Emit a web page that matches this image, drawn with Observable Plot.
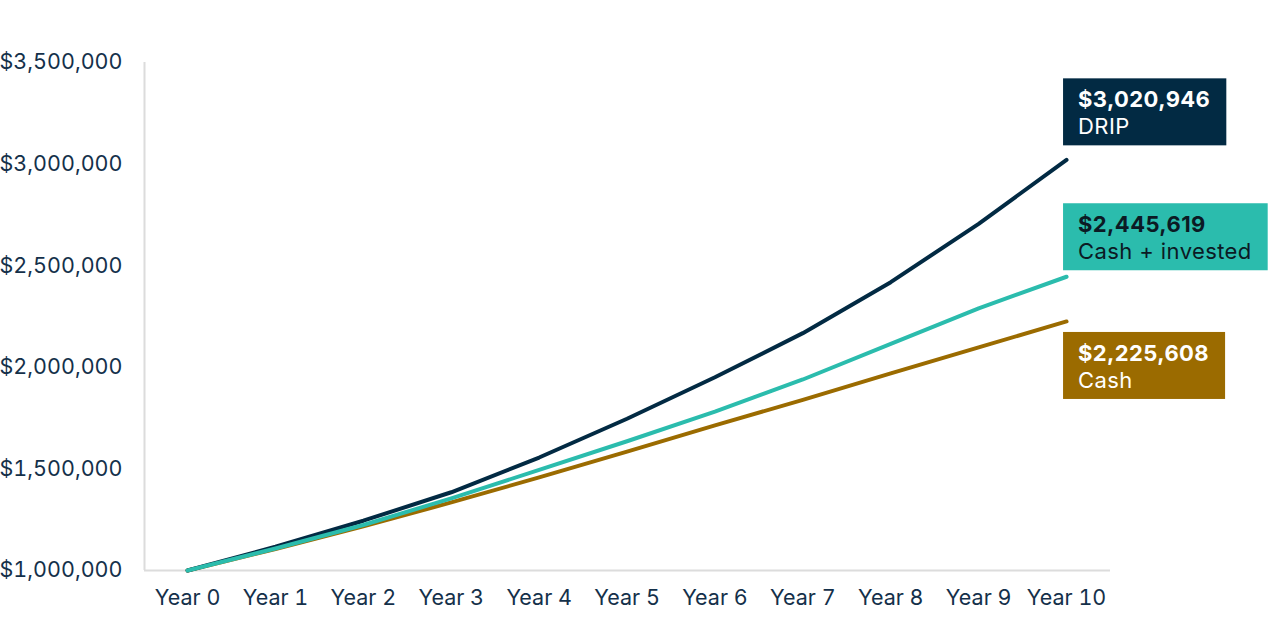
<!DOCTYPE html>
<html>
<head>
<meta charset="utf-8">
<script src="https://cdn.jsdelivr.net/npm/d3@7"></script>
<script src="https://cdn.jsdelivr.net/npm/@observablehq/plot@0.6"></script>
<style>
  html, body { margin: 0; padding: 0; background: #fff; }
  #chart { width: 1280px; height: 644px; }
</style>
</head>
<body>
<div id="chart"></div>
<script>
// ---- Data ----
const years = ["Year 0", "Year 1", "Year 2", "Year 3", "Year 4", "Year 5", "Year 6", "Year 7", "Year 8", "Year 9", "Year 10"];
const drip = [1000000, 1117000, 1245000, 1385000, 1556000, 1747000, 1951000, 2168000, 2419000, 2706000, 3020946];
const cashInvested = [1000000, 1108000, 1224000, 1355000, 1495000, 1636000, 1782000, 1940000, 2115000, 2290000, 2445619];
const cash = [1000000, 1106000, 1217000, 1335000, 1458000, 1585000, 1714000, 1840000, 1970000, 2098000, 2225608];
const seriesNames = ["Cash", "DRIP", "Cash + invested"];
const yTicks = [1000000, 1500000, 2000000, 2500000, 3000000, 3500000];

// ---- Styles ----
const colors = {"DRIP": "#022a43", "Cash + invested": "#2bbcad", "Cash": "#9b6b00"};
const labelText = {"DRIP": "#ffffff", "Cash + invested": "#0b1a24", "Cash": "#ffffff"};
const labelOffset = {"DRIP": -81, "Cash + invested": -73, "Cash": 11};
const textColor = "#14304a";
const font = "Inter, 'Noto Sans', sans-serif";

const valuesBy = {"DRIP": drip, "Cash + invested": cashInvested, "Cash": cash};
const rows = seriesNames.flatMap(s => valuesBy[s].map((v, i) => ({year: i, value: v, series: s})));

const xLeft = -0.49;
const plot = Plot.plot({
  width: 1280,
  height: 644,
  marginTop: 62,
  marginBottom: 74,
  marginLeft: 144,
  marginRight: 170,
  style: {fontFamily: font, fontSize: "21.5px", color: textColor, background: "#fff"},
  x: {type: "linear", domain: [xLeft, 10.5], ticks: years.map((_, i) => i), tickFormat: i => years[i], tickSize: 0, tickPadding: 19, label: null},
  y: {domain: [1000000, 3500000], ticks: yTicks, tickFormat: d3.format("$,"), tickSize: 0, tickPadding: 22, label: null},
  marks: [
    Plot.ruleY([1000000], {stroke: "#dcdcdc", strokeWidth: 2}),
    Plot.ruleX([xLeft], {stroke: "#dcdcdc", strokeWidth: 2}),
    ...seriesNames.map(s => Plot.line(rows.filter(r => r.series === s), {
      x: "year", y: "value", stroke: colors[s], strokeWidth: 4, strokeLinecap: "round", strokeLinejoin: "round"
    }))
  ]
});
document.getElementById("chart").appendChild(plot);

// ---- End labels ----
const xs = plot.scale("x"), ys = plot.scale("y");
const svg = d3.select(plot);
const fmt = d3.format("$,");
const order = ["DRIP", "Cash + invested", "Cash"];
order.forEach(s => {
  const vals = valuesBy[s];
  const last = vals[vals.length - 1];
  const x0 = xs.apply(vals.length - 1) - 3;
  const y0 = ys.apply(last) + labelOffset[s];
  const g = svg.append("g").attr("font-family", font).attr("text-anchor", "start");
  const rect = g.append("rect").attr("x", x0).attr("y", y0).attr("height", 67).attr("fill", colors[s]);
  const t1 = g.append("text").attr("x", x0 + 15).attr("y", y0 + 29).attr("text-anchor", "start")
    .attr("font-size", 22).attr("letter-spacing", 0.4).attr("font-weight", 700).attr("fill", labelText[s]).text(fmt(last));
  const t2 = g.append("text").attr("x", x0 + 15).attr("y", y0 + 56).attr("text-anchor", "start")
    .attr("font-size", 22).attr("letter-spacing", 0.4).attr("font-weight", 400).attr("fill", labelText[s]).text(s);
  const w = Math.max(t1.node().getComputedTextLength(), t2.node().getComputedTextLength());
  rect.attr("width", Math.max(161, w + 31));
});
</script>
</body>
</html>
